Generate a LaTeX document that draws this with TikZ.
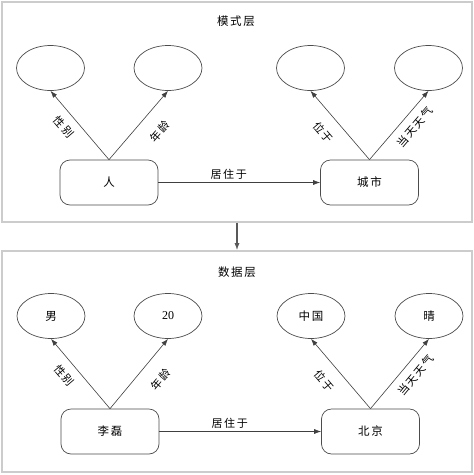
\documentclass[tikz,border=0pt]{standalone}
\usepackage{fontspec}
\setmainfont{Liberation Serif}
\newfontfamily\cjk[LetterSpace=15]{Noto Sans CJK SC}
\usetikzlibrary{shapes.geometric,arrows.meta}
\begin{document}
\begin{tikzpicture}[x=1pt,y=-1pt,
  frame/.style={draw=black!20,line width=1.6pt},
  attr/.style={draw=black!70,line width=0.7pt,ellipse,minimum width=68pt,minimum height=45pt,inner sep=0pt,font=\cjk\fontsize{11.5}{12}\selectfont},
  ent/.style={draw=black!70,line width=0.7pt,rectangle,rounded corners=10pt,minimum width=98pt,minimum height=45pt,inner sep=0pt,font=\cjk\fontsize{11.5}{12}\selectfont},
  conn/.style={draw=black!75,line width=0.6pt,-{Latex[length=7pt,width=5pt]}},
  lbl/.style={font=\cjk\fontsize{11}{12}\selectfont,inner sep=2pt},
  slbl/.style={lbl,sloped,below=6pt,pos=0.6},
  ttl/.style={font=\cjk\fontsize{11.5}{12}\selectfont}]
\useasboundingbox (0,0) rectangle (474,475);
\fill[white] (0,0) rectangle (474,475);
% frames
\node[frame,minimum width=470pt,minimum height=220pt,inner sep=0pt] (top) at (237,112) {};
\node[frame,minimum width=470pt,minimum height=221pt,inner sep=0pt] (bot) at (237,361.5) {};
\draw[draw=black!65,line width=1.2pt,-{Latex[length=7pt,width=5pt]}] (top.south) -- (bot.north);
\node[ttl] (t1) at (236,21) {模式层};
\node[ttl] (t2) at (237,272) {数据层};
% top layer
\node[attr] (e1) at (50.5,68) {};
\node[attr] (e2) at (168,68) {};
\node[attr] (e3) at (310.5,68) {};
\node[attr] (e4) at (428.5,68) {};
\node[ent] (r1) at (109,182.5) {人};
\node[ent] (r2) at (369.5,182.5) {城市};
\draw[conn] (r1.north) -- node[slbl] {性别} (e1.south);
\draw[conn] (r1.north) -- node[slbl,below=7pt] {年龄} (e2.south);
\draw[conn] (r2.north) -- node[slbl,below=4pt,pos=0.56] {位于} (e3.south);
\draw[conn] (r2.north) -- node[slbl] {当天天气} (e4.south);
\draw[conn] (r1.east) -- node[lbl,above=1pt,pos=0.435] {居住于} (r2.west);
% bottom layer
\node[attr] (e5) at (51,316) {男};
\node[attr,font=\fontsize{12}{13}\selectfont] (e6) at (168,316) {20};
\node[attr] (e7) at (311,316) {中国};
\node[attr] (e8) at (429,316) {晴};
\node[ent] (r3) at (110,431.5) {李磊};
\node[ent] (r4) at (370.5,431.5) {北京};
\draw[conn] (r3.north) -- node[slbl] {性别} (e5.south);
\draw[conn] (r3.north) -- node[slbl,below=7pt] {年龄} (e6.south);
\draw[conn] (r4.north) -- node[slbl,below=4pt,pos=0.56] {位于} (e7.south);
\draw[conn] (r4.north) -- node[slbl] {当天天气} (e8.south);
\draw[conn] (r3.east) -- node[lbl,above=1pt,pos=0.435] {居住于} (r4.west);
\end{tikzpicture}
\end{document}
